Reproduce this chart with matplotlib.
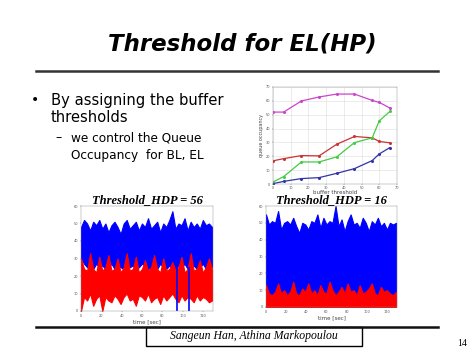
import numpy as np
import matplotlib
matplotlib.use("Agg")
import matplotlib.pyplot as plt
from matplotlib.lines import Line2D
from matplotlib.patches import Rectangle

# ---------------- data ----------------
thresholds = [0, 6, 16, 26, 36, 46, 56, 60, 66]
occ_magenta = [51.9, 51.9, 59.9, 62.8, 64.9, 64.9, 60.3, 58.9, 54.8]
occ_red = [16.7, 18.3, 20.5, 20.3, 28.7, 34.3, 33.3, 30.7, 29.7]
occ_green = [1.4, 5.3, 15.9, 15.9, 19.6, 29.9, 33.3, 45.6, 52.4]
occ_blue = [0.2, 1.9, 3.9, 4.6, 7.7, 11.1, 16.9, 21.7, 26.3]

time_sec = np.arange(0, 132, 3)  # sample times (44 samples)

# Threshold_HDP = 56 : envelopes
h56_blue_hi = [48, 52, 50, 46, 51, 49, 52, 47, 50, 45, 49, 51, 48, 44, 50, 52, 47, 49, 51, 46, 50, 48,
               53, 47, 49, 51, 45, 50, 48, 52, 57, 47, 50, 49, 53, 46, 51, 48, 50, 47, 52, 49, 50, 48]
h56_blue_lo = [30, 27, 25, 26, 24, 27, 25, 26, 24, 25, 27, 24, 26, 25, 24, 27, 25, 26, 24, 25, 27, 26,
               24, 25, 26, 24, 27, 25, 24, 26, 25, 24, 26, 25, 27, 24, 25, 26, 24, 25, 27, 24, 26, 25]
h56_red_hi = [30, 24, 23, 33, 24, 22, 31, 23, 25, 32, 23, 24, 30, 22, 25, 33, 23, 24, 31, 22, 24, 29,
              23, 25, 32, 24, 22, 30, 23, 24, 28, 23, 25, 31, 22, 24, 33, 23, 24, 29, 22, 25, 30, 24]
h56_red_lo = [0, 8, 6, 10, 3, 7, 9, 0, 8, 6, 5, 9, 7, 4, 8, 10, 6, 7, 3, 9, 8, 6,
              10, 5, 7, 8, 4, 9, 6, 8, 10, 7, 5, 9, 6, 8, 7, 5, 9, 6, 8, 7, 5, 6]
h56_blue_dip_t = [95, 106]

# Threshold_HDP = 16
h16_blue_hi = [55, 49, 51, 50, 57, 46, 50, 51, 49, 53, 48, 44, 50, 49, 46, 51, 50, 55, 47, 53, 49, 51,
               50, 60, 48, 52, 45, 51, 55, 49, 50, 47, 53, 50, 45, 51, 49, 53, 48, 50, 46, 50, 49, 50]
h16_red_hi = [13, 8, 7, 9, 14, 8, 10, 7, 9, 15, 8, 7, 11, 9, 14, 8, 10, 7, 13, 9, 8, 15,
              10, 7, 9, 12, 8, 14, 9, 10, 7, 13, 8, 9, 11, 14, 8, 7, 12, 9, 10, 8, 7, 9]

W, H = 474, 355
fig = plt.figure(figsize=(W / 100, H / 100), dpi=100)
fig.patch.set_facecolor("white")


def fx(x):
    return x / W


def fy(y):
    return 1 - y / H


# ---------------- slide text ----------------
fig.text(fx(242), fy(44), "Threshold for EL(HP)", ha="center", va="center",
         fontsize=16.5, fontweight="bold", fontstyle="italic", family="DejaVu Sans")
fig.add_artist(Line2D([fx(36), fx(438)], [fy(71), fy(71)], color="#333333", lw=1.8))

fig.text(fx(35), fy(100), "•", ha="center", va="center", fontsize=10, family="DejaVu Sans")
fig.text(fx(51), fy(100), "By assigning the buffer", ha="left", va="center", fontsize=10.6,
         family="DejaVu Sans")
fig.text(fx(51), fy(118), "thresholds", ha="left", va="center", fontsize=10.6, family="DejaVu Sans")
fig.text(fx(59), fy(138), "–", ha="center", va="center", fontsize=9, family="DejaVu Sans")
fig.text(fx(71), fy(138), "we control the Queue", ha="left", va="center", fontsize=8.7,
         family="DejaVu Sans")
fig.text(fx(71), fy(155), "Occupancy  for BL, EL", ha="left", va="center", fontsize=8.7,
         family="DejaVu Sans")

fig.add_artist(Line2D([fx(36), fx(438)], [fy(327), fy(327)], color="#111111", lw=1.8))
fig.add_artist(Rectangle((fx(146), fy(346)), fx(362) - fx(146), fy(327) - fy(346),
                         transform=fig.transFigure, fill=False, edgecolor="black", lw=1.0))
fig.text(fx(254), fy(336), "Sangeun Han, Athina Markopoulou", ha="center", va="center",
         fontsize=8.5, fontstyle="italic", family="Liberation Serif")
fig.text(fx(462), fy(344), "14", ha="center", va="center", fontsize=7, family="Liberation Serif")

tick_kw = dict(labelsize=2.5, length=1.0, width=0.3, pad=1, colors="#555555")

# ---------------- top-right line chart ----------------
ax1 = fig.add_axes([fx(273), fy(184), fx(397) - fx(273), fy(87) - fy(184)])
for ys, c in [(occ_magenta, "#cc44cc"), (occ_red, "#cc3333"), (occ_green, "#44cc44"),
              (occ_blue, "#3333aa")]:
    ax1.plot(thresholds, ys, color=c, lw=0.9, marker="o", ms=1.2)
ax1.set_xlim(0, 70)
ax1.set_ylim(0, 70)
ax1.set_xticks(range(0, 71, 10))
ax1.set_yticks(range(0, 71, 10))
ax1.grid(True, color="#dddddd", lw=0.4)
ax1.tick_params(**tick_kw)
ax1.tick_params(axis="x", pad=0.5)
for s in ax1.spines.values():
    s.set_linewidth(0.3)
    s.set_color("#888888")
ax1.set_xlabel("buffer threshold", fontsize=4, labelpad=0, color="#444444")
ax1.set_ylabel("queue occupancy", fontsize=3.5, labelpad=1, color="#444444")

# ---------------- bottom-left time series ----------------
ax2 = fig.add_axes([fx(81), fy(311), fx(213) - fx(81), fy(206) - fy(311)])
ax2.fill_between(time_sec, h56_blue_lo, h56_blue_hi, color="#0000ff", lw=0.8,
                 edgecolor="#0000ff")
ax2.vlines(h56_blue_dip_t, 0, 25, color="#0000ff", lw=1.2)
ax2.fill_between(time_sec, h56_red_lo, h56_red_hi, color="#ff0000", lw=0.8,
                 edgecolor="#ff0000")
ax2.set_xlim(0, 130)
ax2.set_ylim(0, 60)
ax2.set_xticks(range(0, 121, 20))
ax2.set_yticks(range(0, 61, 10))
ax2.tick_params(**tick_kw)
for s in ax2.spines.values():
    s.set_linewidth(0.3)
    s.set_color("#888888")
ax2.set_xlabel("time [sec]", fontsize=4, labelpad=1, color="#444444")
ax2.set_title("Threshold_HDP = 56", fontsize=9, fontweight="bold", fontstyle="italic",
              family="Liberation Serif", pad=1.5)

# ---------------- bottom-right time series ----------------
ax3 = fig.add_axes([fx(266), fy(307), fx(397) - fx(266), fy(206) - fy(307)])
ax3.fill_between(time_sec, 0, h16_blue_hi, color="#0000ff", lw=0.8,
                 edgecolor="#0000ff")
ax3.fill_between(time_sec, 0, h16_red_hi, color="#ff0000", lw=0.8,
                 edgecolor="#ff0000")
ax3.set_xlim(0, 130)
ax3.set_ylim(0, 60)
ax3.set_xticks(range(0, 121, 20))
ax3.set_yticks(range(0, 61, 10))
ax3.tick_params(**tick_kw)
for s in ax3.spines.values():
    s.set_linewidth(0.3)
    s.set_color("#888888")
ax3.set_xlabel("time [sec]", fontsize=4, labelpad=1, color="#444444")
ax3.set_title("Threshold_HDP = 16", fontsize=9, fontweight="bold", fontstyle="italic",
              family="Liberation Serif", pad=0.5)

fig.savefig("out.png", dpi=100, facecolor="white")
